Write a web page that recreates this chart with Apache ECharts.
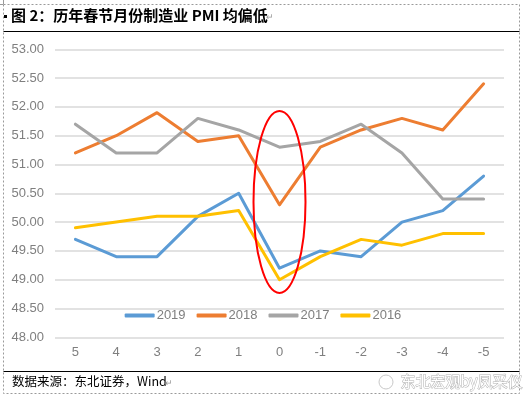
<!DOCTYPE html>
<html><head><meta charset="utf-8">
<script src="https://cdn.jsdelivr.net/npm/echarts@6/dist/echarts.min.js"></script>
<style>html,body{margin:0;padding:0;background:#fff}#c{width:526px;height:402px}</style>
</head><body><div id="c"></div>
<script>
var categories = ['5','4','3','2','1','0','-1','-2','-3','-4','-5'];
var s2019 = [49.7,49.4,49.4,50.1,50.5,49.2,49.5,49.4,50.0,50.2,50.8];
var s2018 = [51.2,51.5,51.9,51.4,51.5,50.3,51.3,51.6,51.8,51.6,52.4];
var s2017 = [51.7,51.2,51.2,51.8,51.6,51.3,51.4,51.7,51.2,50.4,50.4];
var s2016 = [49.9,50.0,50.1,50.1,50.2,49.0,49.4,49.7,49.6,49.8,49.8];
var seriesNames = ['2019','2018','2017','2016'];
var colors = ['#5B9BD5','#ED7D31','#A5A5A5','#FFC000'];
var yMin = 48, yMax = 53, yStep = 0.5;

var chart = echarts.init(document.getElementById('c'));
function mk(name, data, color){
  return {name:name,type:'line',data:data,symbol:'none',smooth:false,
    lineStyle:{color:color,width:3,cap:'round',join:'round'},itemStyle:{color:color}};
}
var font = '"Liberation Sans", Arial, sans-serif';
chart.setOption({
  animation:false,
  grid:{left:55,right:22,top:49.3,bottom:64.7},
  legend:{top:304,left:'center',icon:'roundRect',itemWidth:30,itemHeight:4,itemGap:11,
    textStyle:{color:'#7f7f7f',fontSize:13,fontFamily:font,padding:[0,0,0,-3]},
    data:seriesNames},
  xAxis:{type:'category',data:categories,boundaryGap:true,
    axisLine:{show:false},axisTick:{show:false},
    axisLabel:{color:'#7f7f7f',fontSize:13,fontFamily:font,margin:9}},
  yAxis:{type:'value',min:yMin,max:yMax,interval:yStep,
    axisLine:{show:false},axisTick:{show:false},
    splitLine:{lineStyle:{color:'#d9d9d9',width:1.5}},
    axisLabel:{color:'#7f7f7f',fontSize:13,fontFamily:font,margin:11,
      formatter:function(v){return v.toFixed(2);}}},
  series:[mk('2019',s2019,colors[0]),mk('2018',s2018,colors[1]),mk('2017',s2017,colors[2]),mk('2016',s2016,colors[3])]
});

var cx = chart.convertToPixel({xAxisIndex:0}, '0');
var cy = chart.convertToPixel({yAxisIndex:0}, 50.35);
var cjk = '"Noto Sans CJK SC", sans-serif';
chart.setOption({graphic:[
  {type:'rect',shape:{x:3.5,y:4.5,width:516,height:389},style:{fill:'none',stroke:'#9a9a9a',lineWidth:1,lineDash:[2,2]},silent:true},
  {type:'line',shape:{x1:0,y1:4.5,x2:3,y2:4.5},style:{stroke:'#9a9a9a',lineWidth:1}},
  {type:'line',shape:{x1:3.5,y1:0,x2:3.5,y2:4},style:{stroke:'#9a9a9a',lineWidth:1}},
  {type:'line',shape:{x1:3.5,y1:31.5,x2:519.5,y2:31.5},style:{stroke:'#000',lineWidth:1.2}},
  {type:'line',shape:{x1:3.5,y1:371.5,x2:519.5,y2:371.5},style:{stroke:'#000',lineWidth:1.2}},
  {type:'rect',shape:{x:4,y:15,width:3,height:3},style:{fill:'#000'}},
  {type:'text',left:11,top:8,style:{text:'图 2：历年春节月份制造业 PMI 均偏低',fill:'#000',font:'bold 15px '+cjk}},
  {type:'text',left:266,top:12,style:{text:'↵',fill:'#999',font:'9px '+cjk}},
  {type:'text',left:12,top:375,style:{text:'数据来源：东北证券，Wind',fill:'#000',font:'12.5px '+cjk}},
  {type:'text',left:165,top:378,style:{text:'↵',fill:'#999',font:'9px '+cjk}},
  {type:'circle',shape:{cx:386,cy:382,r:7},style:{fill:'none',stroke:'#c8c8c8',lineWidth:1}},
  {type:'text',left:400,top:373,style:{text:'东北宏观by凤采仪',fill:'#fff',stroke:'#b0b0b0',lineWidth:1,font:'15px '+cjk}},
  {type:'ellipse',shape:{cx:cx,cy:cy,rx:26,ry:91},style:{fill:'none',stroke:'#ff0000',lineWidth:2},z:100}
]});
</script></body></html>
